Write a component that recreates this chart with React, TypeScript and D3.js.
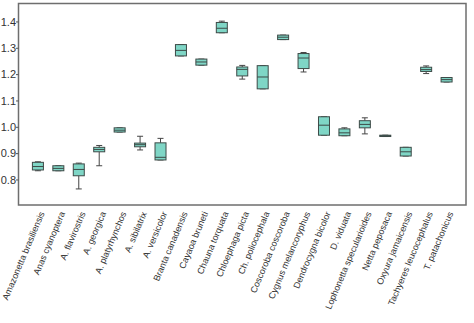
import React from "react";
import * as d3 from "d3";

const species = [
  "Amazonetta brasiliensis", "Anas cyanoptera", "A. flavirostris", "A. georgica",
  "A. platyrhynchos", "A. sibilatrix", "A. versicolor", "Branta canadensis",
  "Cayaoa bruneti", "Chauna torquata", "Chloephaga picta", "Ch. poliocephala",
  "Coscoroba coscoroba", "Cygnus melancoryphus", "Dendrocygna bicolor", "D. viduata",
  "Lophonetta specularioides", "Netta peposaca", "Oxyura jamaicensis",
  "Tachyeres leucocephalus", "T. patachonicus",
];
const whiskerLow = [0.835, 0.835, 0.766, 0.854, 0.982, 0.914, 0.876, 1.271, 1.236, 1.359, 1.183, 1.146, 1.333, 1.210, 0.970, 0.968, 0.975, 0.965, 0.891, 1.204, 1.172];
const q1 = [0.838, 0.835, 0.816, 0.907, 0.982, 0.926, 0.876, 1.271, 1.236, 1.359, 1.195, 1.146, 1.333, 1.223, 0.970, 0.968, 0.998, 0.965, 0.891, 1.212, 1.172];
const median = [0.851, 0.844, 0.840, 0.916, 0.989, 0.934, 0.886, 1.292, 1.248, 1.376, 1.220, 1.191, 1.342, 1.263, 1.008, 0.979, 1.011, 0.968, 0.907, 1.219, 1.181];
const q3 = [0.867, 0.854, 0.861, 0.924, 0.998, 0.940, 0.941, 1.314, 1.259, 1.398, 1.229, 1.234, 1.350, 1.280, 1.040, 0.994, 1.025, 0.970, 0.924, 1.228, 1.189];
const whiskerHigh = [0.869, 0.854, 0.864, 0.931, 0.998, 0.966, 0.958, 1.314, 1.259, 1.403, 1.235, 1.234, 1.350, 1.284, 1.040, 0.998, 1.036, 0.970, 0.924, 1.233, 1.189];
const yTicks = [0.8, 0.9, 1.0, 1.1, 1.2, 1.3, 1.4];

const W = 474, H = 323;
const L = 18.5, R = 466, T = 3.5, B = 205;

export default function App() {
  const x = d3.scalePoint<string>().domain(species).range([L, R]).padding(0.95);
  const y = d3.scaleLinear().domain([0.705, 1.47]).range([B, T]);
  const bw = 11;
  const font = "Arial, 'Liberation Sans', sans-serif";
  return (
    <svg width={W} height={H} style={{ position: "absolute", left: 0, top: 0, background: "#fff" }}>
      <rect x={L} y={T} width={R - L} height={B - T} fill="none" stroke="#6e6e6e" strokeWidth={1.5} />
      {yTicks.map((t) => (
        <g key={t}>
          <line x1={L - 2.5} x2={L} y1={y(t)} y2={y(t)} stroke="#555" strokeWidth={1} />
          <text x={L - 2.5} y={y(t)} dy="0.35em" textAnchor="end" fontSize={11} fontFamily={font} fill="#333">
            {t.toFixed(1)}
          </text>
        </g>
      ))}
      {species.map((s, i) => {
        const cx = x(s)!;
        return (
          <g key={s}>
            <line x1={cx} x2={cx} y1={y(whiskerHigh[i])} y2={y(q3[i])} stroke="#444" strokeWidth={1} />
            <line x1={cx} x2={cx} y1={y(q1[i])} y2={y(whiskerLow[i])} stroke="#444" strokeWidth={1} />
            <line x1={cx - 3} x2={cx + 3} y1={y(whiskerHigh[i])} y2={y(whiskerHigh[i])} stroke="#444" strokeWidth={1} />
            <line x1={cx - 3} x2={cx + 3} y1={y(whiskerLow[i])} y2={y(whiskerLow[i])} stroke="#444" strokeWidth={1} />
            <rect x={cx - bw / 2} y={y(q3[i])} width={bw} height={Math.max(0.5, y(q1[i]) - y(q3[i]))}
              fill="#7fd6c6" stroke="#3d4a47" strokeWidth={1} />
            <line x1={cx - bw / 2} x2={cx + bw / 2} y1={y(median[i])} y2={y(median[i])} stroke="#3d4a47" strokeWidth={1} />
            <text transform={`translate(${cx + 4},${B + 7}) rotate(-67)`} textAnchor="end" dy="0.35em"
              fontSize={9} fontFamily={font} fill="#333">
              {s}
            </text>
          </g>
        );
      })}
    </svg>
  );
}
